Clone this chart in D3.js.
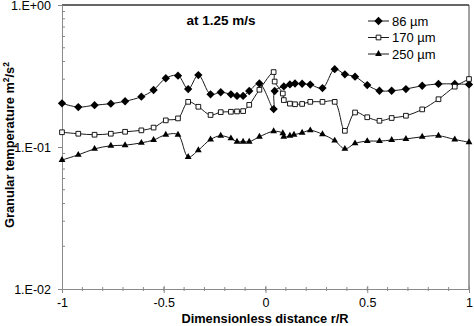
<!DOCTYPE html>
<html>
<head>
<meta charset="utf-8">
<script src="https://cdn.jsdelivr.net/npm/d3@7"></script>
<style>
  html, body { margin: 0; padding: 0; background: #fff; }
  svg { display: block; font-family: "Liberation Sans", Arial, sans-serif; }
</style>
</head>
<body>
<svg id="chart" width="474" height="326"></svg>
<script>
// Granular temperature profiles across the bed, superficial velocity 1.25 m/s
const xTickLabels = ["-1", "-0.5", "0", "0.5", "1"];
const yTickLabels = ["1.E+00", "1.E-01", "1.E-02"];
const seriesNames = ["86 µm", "170 µm", "250 µm"];

const x86 = [-1.00, -0.92, -0.84, -0.76, -0.69, -0.61, -0.55, -0.49, -0.43, -0.38, -0.33, -0.27, -0.22, -0.17, -0.14, -0.11, -0.08, -0.03, 0.04, 0.045, 0.09, 0.12, 0.145, 0.18, 0.22, 0.28, 0.34, 0.39, 0.44, 0.50, 0.56, 0.62, 0.69, 0.77, 0.85, 0.93, 1.00];
const t86 = [0.203, 0.191, 0.197, 0.202, 0.210, 0.226, 0.252, 0.305, 0.318, 0.256, 0.321, 0.235, 0.243, 0.235, 0.229, 0.229, 0.248, 0.280, 0.185, 0.248, 0.267, 0.276, 0.280, 0.279, 0.275, 0.260, 0.353, 0.325, 0.313, 0.273, 0.249, 0.249, 0.256, 0.270, 0.278, 0.278, 0.276];

const x170 = [-1.00, -0.92, -0.84, -0.76, -0.69, -0.61, -0.55, -0.49, -0.43, -0.38, -0.33, -0.27, -0.22, -0.17, -0.14, -0.11, -0.08, -0.03, 0.04, 0.045, 0.085, 0.09, 0.12, 0.145, 0.18, 0.22, 0.28, 0.34, 0.39, 0.44, 0.50, 0.56, 0.62, 0.69, 0.77, 0.85, 0.93, 1.00];
const t170 = [0.127, 0.124, 0.122, 0.124, 0.128, 0.131, 0.137, 0.154, 0.159, 0.208, 0.192, 0.168, 0.176, 0.177, 0.178, 0.179, 0.198, 0.253, 0.337, 0.289, 0.238, 0.214, 0.202, 0.200, 0.201, 0.208, 0.208, 0.208, 0.130, 0.175, 0.162, 0.153, 0.160, 0.166, 0.184, 0.217, 0.266, 0.301];

const x250 = [-1.00, -0.92, -0.84, -0.76, -0.69, -0.61, -0.55, -0.49, -0.43, -0.38, -0.33, -0.27, -0.22, -0.17, -0.14, -0.11, -0.08, -0.03, 0.04, 0.085, 0.09, 0.12, 0.14, 0.18, 0.22, 0.28, 0.34, 0.39, 0.44, 0.50, 0.56, 0.62, 0.69, 0.77, 0.85, 0.93, 1.00];
const t250 = [0.081, 0.088, 0.097, 0.102, 0.103, 0.107, 0.112, 0.122, 0.122, 0.085, 0.095, 0.113, 0.120, 0.115, 0.109, 0.109, 0.109, 0.118, 0.129, 0.125, 0.118, 0.120, 0.122, 0.126, 0.131, 0.123, 0.111, 0.097, 0.106, 0.110, 0.110, 0.112, 0.114, 0.118, 0.120, 0.113, 0.108];

const series = [
  { name: seriesNames[0], xs: x86,  ys: t86,  symbol: d3.symbolDiamond2, size: 44, fill: "#000" },
  { name: seriesNames[1], xs: x170, ys: t170, symbol: d3.symbolSquare,   size: 22, fill: "#fff" },
  { name: seriesNames[2], xs: x250, ys: t250, symbol: d3.symbolTriangle, size: 20, fill: "#000" }
];

const svg = d3.select("#chart");
const plotLeft = 62, plotRight = 469, plotTop = 5, plotBottom = 289;

const x = d3.scaleLinear().domain([-1, 1]).range([plotLeft, plotRight]);
const y = d3.scaleLog().domain([0.01, 1]).range([plotBottom, plotTop]);

const axisColor = "#8a8a8a";

// Frame: top and right edges
svg.append("line").attr("x1", plotLeft).attr("x2", plotRight).attr("y1", plotTop).attr("y2", plotTop)
  .attr("stroke", "#333").attr("stroke-width", 1.6);
svg.append("line").attr("x1", plotRight).attr("x2", plotRight).attr("y1", plotTop).attr("y2", plotBottom)
  .attr("stroke", "#444").attr("stroke-width", 1);

// Y axis (log, decades labelled, minor ticks inside)
const yMinor = [];
for (let d = 0.01; d < 1; d *= 10) for (let k = 2; k <= 9; k++) yMinor.push(+(d * k).toPrecision(3));
const yAxis = d3.axisLeft(y).tickValues([1, 0.1, 0.01]).tickSize(4)
  .tickFormat((d, i) => yTickLabels[i]);
const gy = svg.append("g").attr("transform", `translate(${plotLeft},0)`).call(yAxis);
gy.select(".domain").attr("stroke", axisColor);
gy.selectAll(".tick line").attr("stroke", axisColor);
gy.selectAll(".tick text").attr("fill", "#000").attr("font-size", 12.5).attr("x", -11);
svg.append("g").selectAll("line").data(yMinor).join("line")
  .attr("x1", plotLeft).attr("x2", plotLeft + 3).attr("y1", d => y(d)).attr("y2", d => y(d))
  .attr("stroke", axisColor);

// X axis with minor ticks every 0.1
const gx = svg.append("g").attr("transform", `translate(0,${plotBottom})`)
  .call(d3.axisBottom(x).tickValues([-1, -0.5, 0, 0.5, 1]).tickSize(4)
    .tickFormat((d, i) => xTickLabels[i]));
gx.select(".domain").attr("stroke", axisColor);
gx.selectAll(".tick line").attr("stroke", axisColor).attr("y1", -3);
gx.selectAll(".tick text").attr("fill", "#000").attr("font-size", 12.5).attr("y", 9);
const xMinor = d3.range(-9, 10).map(i => i / 10);
svg.append("g").selectAll("line").data(xMinor).join("line")
  .attr("x1", d => x(d)).attr("x2", d => x(d)).attr("y1", plotBottom - 2).attr("y2", plotBottom + 2)
  .attr("stroke", axisColor);

// Series lines and markers
const line = d3.line().curve(d3.curveCatmullRom.alpha(0.5));
series.forEach(s => {
  const pts = s.xs.map((v, i) => [x(v), y(s.ys[i])]);
  svg.append("path").attr("d", line(pts)).attr("fill", "none")
    .attr("stroke", "#1a1a1a").attr("stroke-width", 1);
  svg.append("g").selectAll("path").data(pts).join("path")
    .attr("transform", d => `translate(${d[0]},${d[1]})`)
    .attr("d", d3.symbol(s.symbol, s.size))
    .attr("fill", s.fill).attr("stroke", "#000").attr("stroke-width", s.fill === "#fff" ? 0.9 : 0);
});

// Legend
const legend = svg.append("g");
series.forEach((s, i) => {
  const ly = 21 + i * 16.5;
  legend.append("line").attr("x1", 368).attr("x2", 389).attr("y1", ly).attr("y2", ly)
    .attr("stroke", "#1a1a1a");
  legend.append("path").attr("transform", `translate(378.5,${ly})`)
    .attr("d", d3.symbol(s.symbol, s.size))
    .attr("fill", s.fill).attr("stroke", "#000").attr("stroke-width", s.fill === "#fff" ? 0.9 : 0);
  legend.append("text").attr("x", 392).attr("y", ly).attr("dy", "0.35em")
    .attr("font-size", 13).text(s.name);
});

// Title and axis titles
svg.append("text").attr("x", 221).attr("y", 25).attr("text-anchor", "middle")
  .attr("font-size", 13.5).attr("font-weight", "bold").text("at 1.25 m/s");

svg.append("text").attr("x", 265).attr("y", 323).attr("text-anchor", "middle")
  .attr("font-size", 12.8).attr("font-weight", "bold").text("Dimensionless distance r/R");

const yt = svg.append("text").attr("transform", "translate(13.5,145) rotate(-90)")
  .attr("text-anchor", "middle").attr("font-size", 12.8).attr("font-weight", "bold");
yt.append("tspan").text("Granular temperature m");
yt.append("tspan").attr("dy", -5).attr("font-size", 8.5).text("2");
yt.append("tspan").attr("dy", 5).text("/s");
yt.append("tspan").attr("dy", -5).attr("font-size", 8.5).text("2");
</script>
</body>
</html>
